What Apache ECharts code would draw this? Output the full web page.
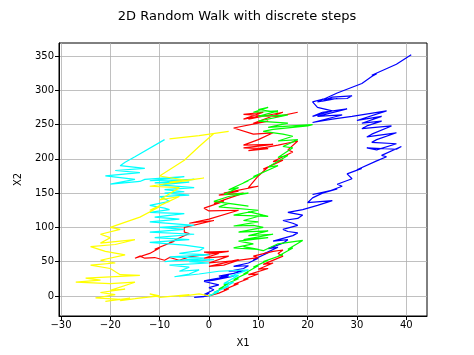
<!DOCTYPE html>
<html>
<head>
<meta charset="utf-8">
<script src="https://cdn.jsdelivr.net/npm/echarts@6/dist/echarts.min.js"></script>
<style>
  html, body { margin: 0; padding: 0; background: #fff; }
  #chart { width: 474px; height: 355px; }
</style>
</head>
<body>
<div id="chart"></div>
<script>
// tick labels
const xTicks = [-30, -20, -10, 0, 10, 20, 30, 40];
const yTicks = [0, 50, 100, 150, 200, 250, 300, 350];

// walk vertices [x1, x2]
const blueWalk = [
    [0, 0], [-3, -2], [-1, -1], [0, 4], [-1, 2], [1, 9], [0, 12], [2, 16], [-1, 21], [1, 23], [5, 29], [-1, 22],
    [2, 26], [4, 30], [2, 29], [5, 33], [7, 37], [4, 36], [7, 40], [8, 44], [5, 43], [8, 48], [10, 55], [9, 53],
    [12, 63], [11, 61], [14, 71], [12, 69], [15, 77], [16, 82], [13, 80], [17, 88], [18, 92], [16, 94], [15, 97],
    [18, 103], [17, 106], [15, 110], [18, 113], [19, 118], [16, 122], [19, 126], [22, 132], [25, 139], [20, 136],
    [21, 143], [23, 150], [26, 156], [21, 148], [24, 152], [27, 160], [26, 163], [29, 171], [28, 178], [31, 186],
    [30, 184], [34, 197], [36, 203], [35, 205], [39, 218], [38, 214], [32, 216], [34, 213], [38, 222], [33, 224],
    [34, 228], [38, 238], [32, 232], [33, 236], [37, 248], [31, 244], [32, 248], [35, 255], [31, 252], [35, 262],
    [30, 256], [36, 270], [29, 262], [25, 258], [21, 253], [27, 264], [22, 262], [28, 273], [23, 268], [21, 262],
    [25, 270], [22, 275], [21, 283], [23, 287], [28, 288], [29, 292], [25, 290], [23, 284], [26, 288], [22, 283],
    [26, 296], [31, 310], [33, 320], [34, 324], [33, 322], [38, 338], [41, 352]
];
const redWalk = [
    [0, 0], [2, 4], [4, 10], [3, 9], [6, 18], [5, 17], [8, 25], [7, 24], [10, 32], [8, 31], [12, 40], [10, 39],
    [13, 48], [11, 46], [15, 58], [14, 62], [15, 67], [13, 65], [9, 58], [10, 56], [4, 50], [6, 53], [0, 43],
    [3, 45], [6, 52], [0, 48], [4, 58], [-1, 55], [2, 62], [-1, 64], [4, 65], [1, 62], [-4, 57], [-6, 52],
    [-8, 56], [-9, 52], [-11, 56], [-13, 55], [-14, 58], [-15, 55], [-12, 62], [-10, 70], [-11, 68], [-7, 80],
    [-8, 78], [-4, 91], [-5, 93], [-5, 100], [1, 110], [-4, 106], [0, 112], [6, 125], [0, 124], [-1, 128],
    [3, 138], [1, 135], [7, 150], [2, 147], [6, 153], [3, 150], [10, 160], [8, 158], [10, 175], [12, 188],
    [11, 185], [15, 198], [13, 196], [17, 210], [16, 213], [18, 226], [14, 220], [8, 212], [12, 215], [7, 216],
    [13, 221], [7, 220], [10, 228], [13, 238], [9, 236], [5, 245], [12, 255], [9, 252], [15, 268], [8, 258],
    [10, 262], [7, 258], [11, 268], [7, 265], [14, 262], [18, 268]
];
const greenWalk = [
    [0, 0], [2, 6], [1, 5], [3, 12], [2, 10], [4, 18], [3, 16], [6, 25], [5, 24], [8, 34], [7, 32], [10, 44],
    [9, 42], [12, 52], [11, 50], [15, 60], [14, 58], [17, 70], [16, 68], [19, 81], [14, 76], [11, 66], [7, 72],
    [10, 68], [5, 70], [9, 76], [6, 80], [12, 85], [7, 82], [13, 90], [8, 88], [12, 95], [6, 93], [11, 100],
    [9, 103], [5, 102], [10, 108], [7, 110], [11, 118], [8, 123], [12, 116], [5, 118], [10, 125], [2, 130],
    [4, 135], [8, 131], [1, 138], [4, 145], [8, 150], [3, 148], [6, 158], [4, 155], [8, 168], [7, 165],
    [10, 176], [9, 174], [14, 190], [12, 188], [16, 205], [14, 202], [17, 216], [15, 218], [18, 228], [14, 226],
    [17, 233], [15, 236], [11, 240], [13, 243], [20, 248], [21, 250], [12, 246], [16, 252], [10, 255], [16, 264],
    [10, 262], [14, 270], [9, 268], [12, 275], [10, 272], [14, 268]
];
const cyanWalk = [
    [0, 0], [2, 6], [1, 5], [4, 14], [3, 12], [5, 20], [3, 18], [6, 30], [4, 28], [8, 38], [2, 36], [-2, 32],
    [-7, 28], [-4, 32], [-2, 38], [-6, 36], [-4, 42], [-8, 45], [0, 48], [-4, 50], [1, 53], [-6, 52], [-9, 50],
    [-1, 55], [-8, 57], [0, 60], [-6, 62], [-2, 66], [-1, 70], [-5, 74], [-12, 78], [-4, 82], [-11, 85],
    [-3, 90], [-12, 93], [-5, 97], [-10, 100], [-3, 103], [-12, 108], [-6, 112], [-11, 115], [-5, 120],
    [-12, 122], [-8, 126], [-9, 128], [-12, 132], [-8, 138], [-10, 145], [-4, 147], [-9, 150], [-5, 152],
    [-9, 155], [-3, 158], [-10, 162], [-4, 166], [-11, 165], [-3, 170], [-12, 168], [-5, 174], [-13, 170],
    [-14, 167], [-20, 163], [-15, 170], [-21, 175], [-14, 180], [-19, 183], [-13, 186], [-18, 190],
    [-17, 195], [-15, 203], [-9, 228]
];
const yellowWalk = [
    [0, 0], [-2, 3], [-6, -1], [-4, 2], [-10, -2], [-12, 3], [-10, 0], [-15, -4], [-13, -2], [-18, -7],
    [-16, -3], [-21, -8], [-18, -5], [-23, -3], [-19, 2], [-22, 5], [-17, 10], [-20, 8], [-15, 20], [-20, 18],
    [-27, 20], [-22, 23], [-25, 26], [-14, 30], [-18, 31], [-20, 40], [-24, 45], [-19, 48], [-22, 52],
    [-17, 60], [-21, 65], [-24, 72], [-19, 75], [-15, 82], [-22, 77], [-20, 85], [-22, 90], [-18, 97],
    [-20, 100], [-14, 115], [-10, 130], [-12, 125], [-9, 135], [-6, 145], [-10, 140], [-6, 158], [-12, 160],
    [-1, 172], [-8, 166], [-4, 168], [-10, 175], [-5, 198], [-2, 218], [1, 237], [4, 240], [-2, 234], [-8, 229]
];

const walks = [
    { data: blueWalk, color: '#0000ff' },
    { data: redWalk, color: '#ff0000' },
    { data: greenWalk, color: '#00ff00' },
    { data: cyanWalk, color: '#00ffff' },
    { data: yellowWalk, color: '#ffff00' },
];

const minusSign = (v) => String(v).replace('-', '\u2212');

const myChart = echarts.init(document.getElementById('chart'));
myChart.setOption({
    animation: false,
    title: {
        text: '2D Random Walk with discrete steps',
        left: 'center',
        top: 5,
        textStyle: { fontSize: 13, fontWeight: 'normal', color: '#000', fontFamily: 'DejaVu Sans' },
    },
    grid: {
        left: 59,
        right: 47,
        top: 43,
        bottom: 39,
        show: true,
        borderColor: '#000',
        borderWidth: 1,
    },
    xAxis: {
        type: 'value',
        min: -30.4,
        max: 44.2,
        name: 'X1',
        nameLocation: 'middle',
        nameGap: 22,
        nameTextStyle: { fontSize: 10, color: '#000', fontFamily: 'DejaVu Sans' },
        axisLine: { show: true, onZero: false, lineStyle: { color: '#000' } },
        axisTick: { show: true, length: 4, customValues: xTicks, lineStyle: { color: '#000' } },
        axisLabel: { customValues: xTicks, fontSize: 10, color: '#000', fontFamily: 'DejaVu Sans', formatter: minusSign, margin: 4 },
        splitLine: { show: true, lineStyle: { color: '#b0b0b0', width: 0.8 } },
    },
    yAxis: {
        type: 'value',
        min: -29.3,
        max: 369,
        name: 'X2',
        nameLocation: 'middle',
        nameGap: 36,
        nameTextStyle: { fontSize: 10, color: '#000', fontFamily: 'DejaVu Sans' },
        axisLine: { show: true, onZero: false, lineStyle: { color: '#000' } },
        axisTick: { show: true, length: 4, customValues: yTicks, lineStyle: { color: '#000' } },
        axisLabel: { customValues: yTicks, fontSize: 10, color: '#000', fontFamily: 'DejaVu Sans', formatter: minusSign, margin: 5 },
        splitLine: { show: true, lineStyle: { color: '#b0b0b0', width: 0.8 } },
    },
    series: walks.map((w) => ({
        type: 'line',
        data: w.data,
        showSymbol: false,
        silent: true,
        lineStyle: { width: 1.2, color: w.color },
        itemStyle: { color: w.color },
    })),
});
</script>
</body>
</html>
